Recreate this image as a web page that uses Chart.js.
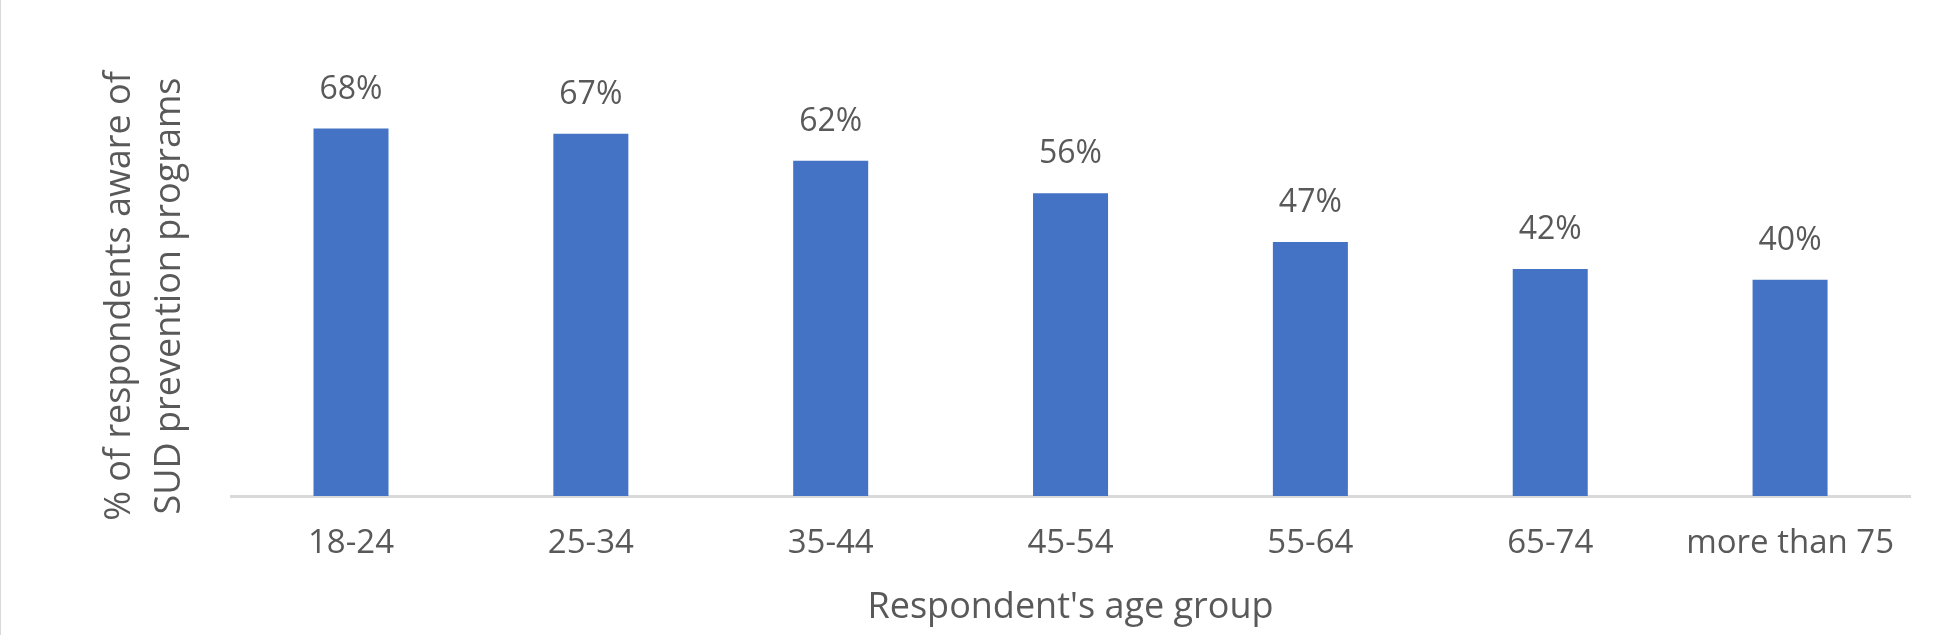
<!DOCTYPE html>
<html>
<head>
<meta charset="utf-8">
<script src="https://cdn.jsdelivr.net/npm/chart.js@4.4.0/dist/chart.umd.min.js"></script>
<style>
  html, body { margin: 0; padding: 0; background: #fff; }
  #wrap { position: relative; width: 1946px; height: 635px; border-left: 1px solid #d9d9d9; box-sizing: border-box; }
  #chart { position: absolute; left: -1px; top: 0; }
</style>
</head>
<body>
<div id="wrap"><canvas id="chart" width="1946" height="635"></canvas></div>
<script>
// Awareness of SUD prevention programs by age
const ageGroups = ['18-24', '25-34', '35-44', '45-54', '55-64', '65-74', 'more than 75'];
const awarePct = [68, 67, 62, 56, 47, 42, 40];

const yTitle = ['% of respondents aware of', 'SUD prevention programs'];
const xTitle = "Respondent's age group";

const FONT = "'Open Sans', 'Noto Sans', sans-serif";
const TEXT = '#595959';

// draw the % labels above each bar
const barLabels = {
    id: 'barLabels',
    afterDatasetsDraw(chart) {
        const ctx = chart.ctx;
        const meta = chart.getDatasetMeta(0);
        ctx.save();
        ctx.font = `32px ${FONT}`;
        ctx.fillStyle = TEXT;
        ctx.textAlign = 'center';
        ctx.textBaseline = 'middle';
        meta.data.forEach((bar, i) => {
            ctx.fillText(awarePct[i] + '%', bar.x, bar.y - 39);
        });
        ctx.restore();
    }
};

new Chart(document.getElementById('chart'), {
    type: 'bar',
    data: {
        labels: ageGroups,
        datasets: [{
            data: awarePct,
            backgroundColor: '#4472C4',
            borderWidth: 0,
            barPercentage: 0.3127,
            categoryPercentage: 1
        }]
    },
    options: {
        responsive: false,
        animation: false,
        devicePixelRatio: 1,
        layout: { padding: { top: 96, right: 36, left: 0, bottom: 0 } },
        plugins: { legend: { display: false }, tooltip: { enabled: false } },
        scales: {
            x: {
                grid: { display: false, drawTicks: false },
                border: { display: true, color: '#d9d9d9', width: 3 },
                ticks: { color: TEXT, font: { family: FONT, size: 33 }, padding: 28, maxRotation: 0 },
                title: { display: true, text: xTitle, color: TEXT, font: { family: FONT, size: 36 }, padding: { top: 0, bottom: 6 } },
                afterFit(scale) { scale.height = 139; }
            },
            y: {
                min: 0,
                max: 74,
                grid: { display: false, drawTicks: false },
                border: { display: false },
                ticks: { display: false },
                title: {
                    display: true, text: yTitle, color: TEXT,
                    font: { family: FONT, size: 36, lineHeight: 1.39 },
                    padding: { top: 95, bottom: 36 }
                }
            }
        }
    },
    plugins: [barLabels]
});
</script>
</body>
</html>
